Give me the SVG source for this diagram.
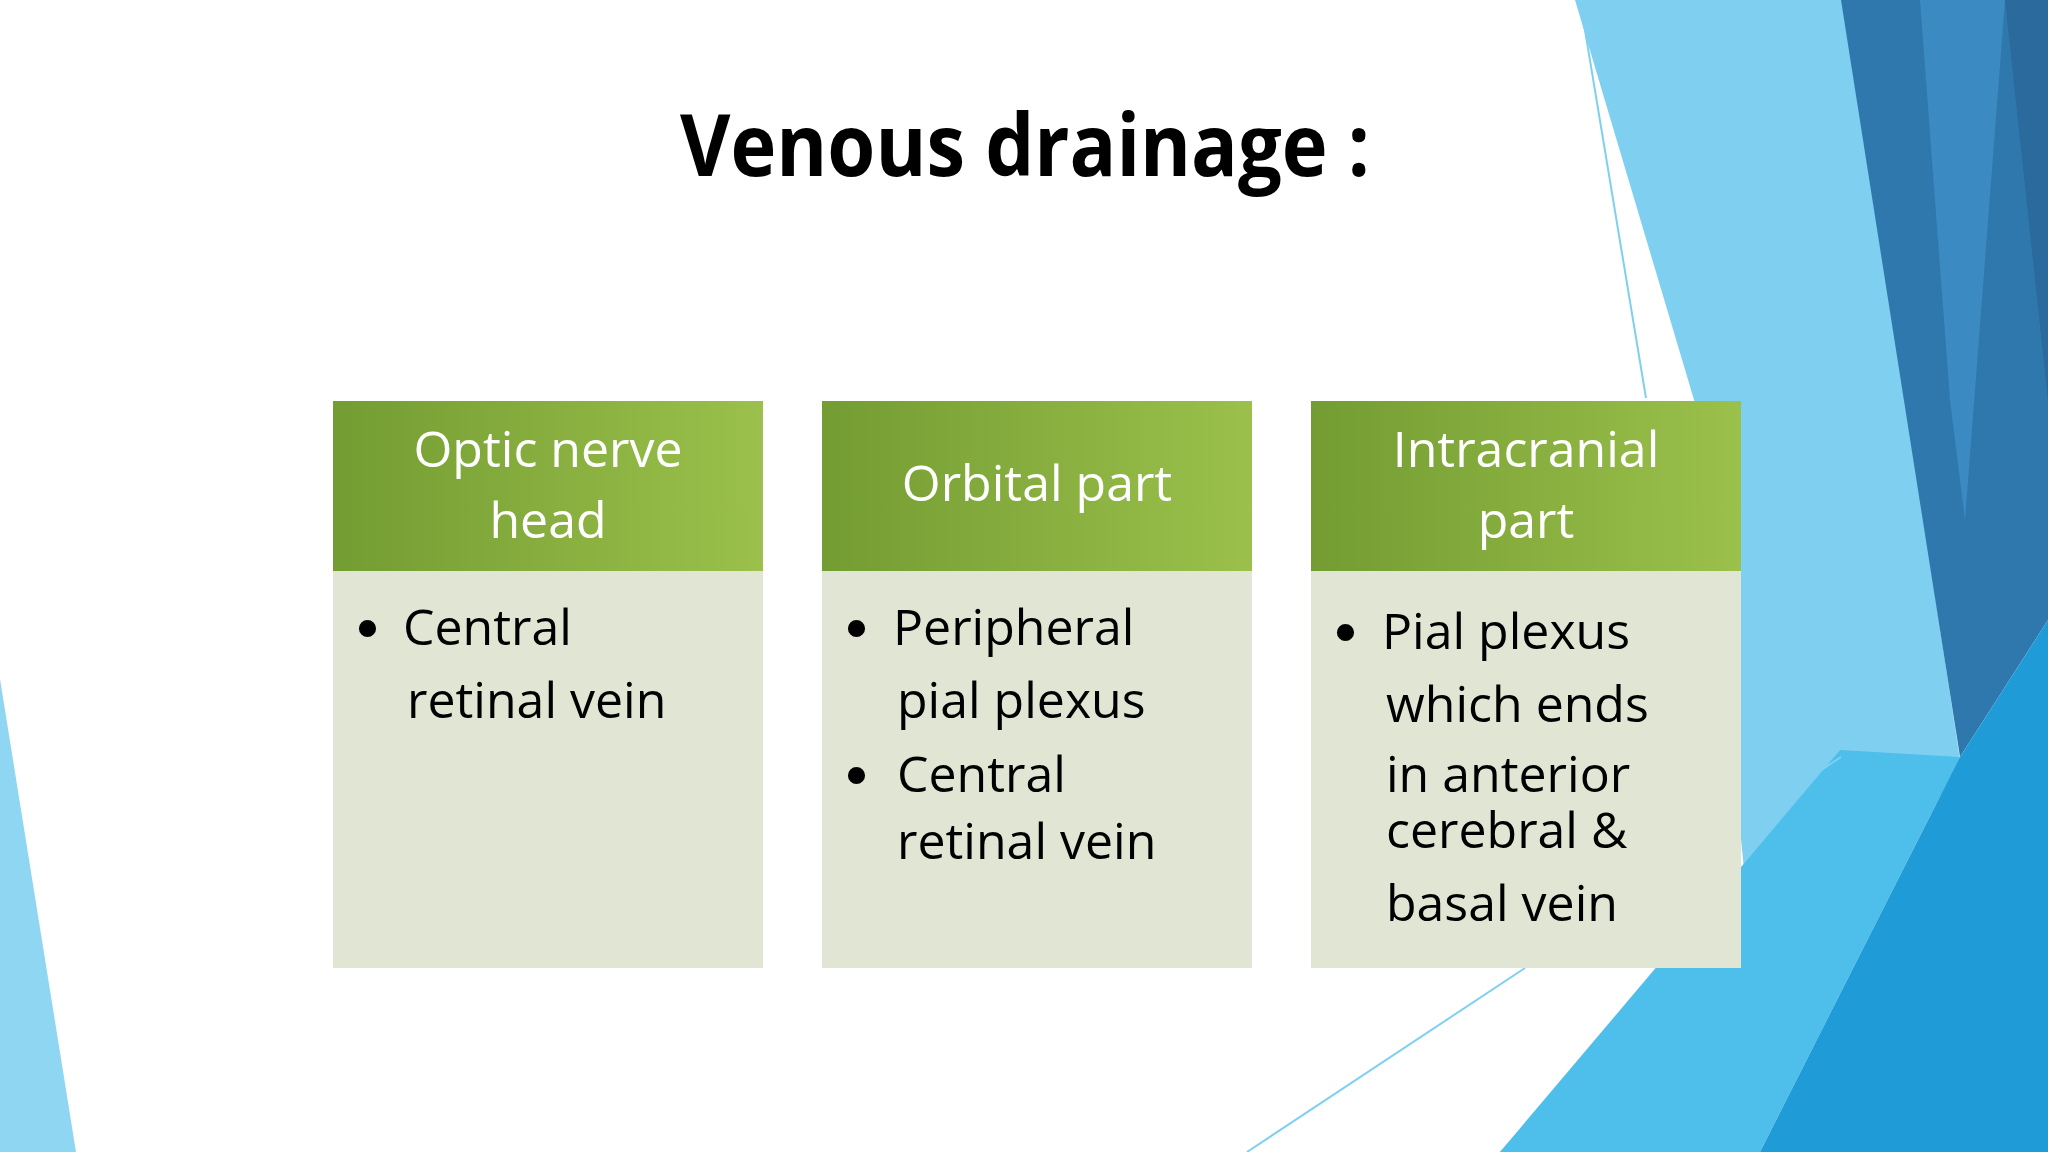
<svg xmlns="http://www.w3.org/2000/svg" width="2048" height="1152" viewBox="0 0 2048 1152">
<defs>
<linearGradient id="hg" x1="0" y1="0" x2="1" y2="0"><stop offset="0" stop-color="#739c32"/><stop offset="1" stop-color="#9bc04b"/></linearGradient>
<style>
.h{fill:url(#hg)}
.b{fill:#e1e6d4}
.ht{font-family:"Open Sans","Liberation Sans",sans-serif;font-size:50px;fill:#fff;text-anchor:middle}
.bt{font-family:"Open Sans","Liberation Sans",sans-serif;font-size:50px;fill:#000}
.bu{font-family:"Liberation Sans",sans-serif;font-size:60px;font-weight:bold;fill:#000}
</style>
</defs>
<rect width="2048" height="1152" fill="#fff"/>
<g id="background">
<polygon points="1575,0 1845,0 1960,760 1745,1152 1500,1152 1745,880 1700,420" fill="#7fd0f0"/>
<polygon points="1841,0 2048,0 2048,620 1960,757" fill="#2f78ae"/>
<polygon points="1920,0 2005,0 1965,520 1950,400" fill="#3b8bc2"/>
<polygon points="2005,0 2048,0 2048,400" fill="#2a6a9c"/>
<polygon points="1840,750 1960,757 1760,1152 1500,1152" fill="#4dbfea"/>
<polygon points="2048,620 2048,1152 1760,1152 1960,757" fill="#1f9bd7"/>
<polygon points="0,679 76,1152 0,1152" fill="#8fd6f3"/>
<line x1="1580" y1="0" x2="1646" y2="398" stroke="#7fd0f0" stroke-width="2"/>
<line x1="1525" y1="968" x2="1247" y2="1152" stroke="#7fd0f0" stroke-width="2"/>
<line x1="1741" y1="823" x2="1841" y2="757" stroke="#7fd0f0" stroke-width="2"/>
</g>
<text x="1025" y="176" font-family="Open Sans,Liberation Sans,sans-serif" font-weight="bold" font-size="86" text-anchor="middle" textLength="690" lengthAdjust="spacingAndGlyphs" fill="#000">Venous drainage :</text>
<g id="connectors"></g>
<g id="col1">
<rect class="b" x="333" y="571" width="430" height="397"/>
<rect class="h" x="333" y="401" width="430" height="170"/>
<text class="ht" x="548" y="467">Optic nerve</text>
<text class="ht" x="548" y="538">head</text>
<text class="bu" x="357" y="648">•</text>
<text class="bt" x="403" y="645">Central</text>
<text class="bt" x="407" y="718">retinal vein</text>
</g>
<g id="col2">
<rect class="b" x="822" y="571" width="430" height="397"/>
<rect class="h" x="822" y="401" width="430" height="170"/>
<text class="ht" x="1037" y="501">Orbital part</text>
<text class="bu" x="846" y="648">•</text>
<text class="bt" x="893" y="645">Peripheral</text>
<text class="bt" x="897" y="718">pial plexus</text>
<text class="bu" x="846" y="795">•</text>
<text class="bt" x="897" y="792">Central</text>
<text class="bt" x="897" y="859">retinal vein</text>
</g>
<g id="col3">
<rect class="b" x="1311" y="571" width="430" height="397"/>
<rect class="h" x="1311" y="401" width="430" height="170"/>
<text class="ht" x="1526" y="467">Intracranial</text>
<text class="ht" x="1526" y="538">part</text>
<text class="bu" x="1335" y="652">•</text>
<text class="bt" x="1382" y="649">Pial plexus</text>
<text class="bt" x="1386" y="722">which ends</text>
<text class="bt" x="1386" y="792">in anterior</text>
<text class="bt" x="1386" y="848">cerebral &amp;</text>
<text class="bt" x="1386" y="921">basal vein</text>
</g>
</svg>
